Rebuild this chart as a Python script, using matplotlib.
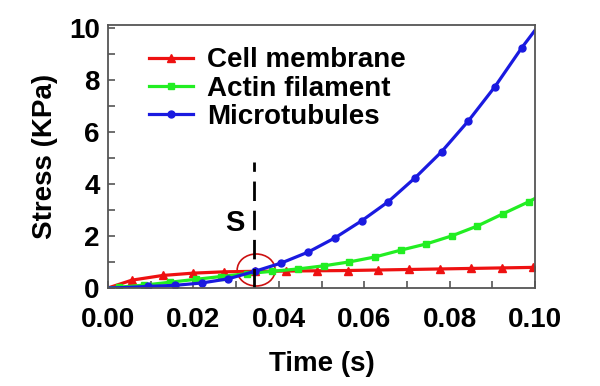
import numpy as np
import matplotlib
matplotlib.use("Agg")
import matplotlib.pyplot as plt
from matplotlib.patches import Ellipse
from matplotlib.ticker import MultipleLocator

plt.rcParams['font.family'] = ['Liberation Sans', 'DejaVu Sans']
plt.rcParams['font.weight'] = 'bold'

# values (time in s, stress in KPa)
t_membrane = [0.0, 0.0056, 0.0128, 0.0200, 0.0272, 0.0344, 0.0417, 0.0489,
              0.0561, 0.0633, 0.0706, 0.0778, 0.0850, 0.0922, 0.0995, 0.1]
s_membrane = [0.0, 0.30, 0.48, 0.57, 0.62, 0.64, 0.65, 0.66,
              0.67, 0.69, 0.71, 0.73, 0.75, 0.77, 0.79, 0.79]

t_actin = [0.0, 0.0025, 0.0085, 0.0145, 0.0205, 0.0265, 0.0325, 0.0385, 0.0445,
           0.0505, 0.0565, 0.0625, 0.0685, 0.0745, 0.0805, 0.0865, 0.0925, 0.0985, 0.1]
s_actin = [0.0, 0.03, 0.11, 0.22, 0.33, 0.44, 0.55, 0.64, 0.73,
           0.85, 1.00, 1.19, 1.45, 1.69, 2.00, 2.38, 2.85, 3.31, 3.44]

t_micro = [0.0, 0.0031, 0.0094, 0.0156, 0.0219, 0.0281, 0.0344, 0.0406, 0.0469,
           0.0531, 0.0594, 0.0656, 0.0719, 0.0781, 0.0844, 0.0906, 0.0969, 0.1]
s_micro = [0.0, 0.01, 0.06, 0.10, 0.19, 0.35, 0.64, 0.96, 1.38,
           1.92, 2.58, 3.31, 4.23, 5.23, 6.42, 7.73, 9.23, 9.90]

s_line_x = 0.0343
s_line_top = 4.85

fig = plt.figure(figsize=(6, 3.86), dpi=100)
ax = fig.add_axes([0.18, 0.254, 0.7117, 0.681])

ax.plot(t_membrane, s_membrane, color='#ee1111', lw=2.3, marker='^', ms=5.5,
        markevery=list(range(1, len(t_membrane) - 1)), label='Cell membrane')
ax.plot(t_actin, s_actin, color='#22ee22', lw=2.3, marker='s', ms=4.5,
        markevery=list(range(1, len(t_actin) - 1)), label='Actin filament')
ax.plot(t_micro, s_micro, color='#1a1ae0', lw=2.3, marker='o', ms=5,
        markevery=list(range(2, len(t_micro) - 1)), label='Microtubules')

ax.plot([s_line_x, s_line_x], [0, s_line_top], color='black', lw=2,
        dashes=(7, 3.5))
ax.add_patch(Ellipse((0.0347, 0.69), 0.0089, 1.23, fill=False,
                     edgecolor='#cc1111', lw=1.2))
ax.text(0.0297, 2.5, 'S', fontsize=21, fontweight='bold', ha='center', va='center')

ax.set_xlim(0, 0.1)
ax.set_ylim(0, 10.1)
ax.xaxis.set_major_locator(MultipleLocator(0.02))
ax.xaxis.set_minor_locator(MultipleLocator(0.01))
ax.yaxis.set_major_locator(MultipleLocator(2))
ax.yaxis.set_minor_locator(MultipleLocator(1))
ax.set_xticks([0, 0.02, 0.04, 0.06, 0.08, 0.10])
ax.set_xticklabels(['0.00', '0.02', '0.04', '0.06', '0.08', '0.10'])

ax.tick_params(which='both', direction='in', length=5, width=1.2, color='#555555',
               labelsize=20)
ax.tick_params(axis='x', pad=14)
ax.tick_params(axis='y', pad=6)
for sp in ax.spines.values():
    sp.set_color('#555555')
    sp.set_linewidth(1.3)

ax.set_xlabel('Time (s)', fontsize=20, fontweight='bold', labelpad=13)
ax.set_ylabel('Stress (KPa)', fontsize=20, fontweight='bold', labelpad=8)

ax.legend(loc='upper left', bbox_to_anchor=(0.095, 0.915), frameon=False,
          handlelength=1.6, handletextpad=0.5, labelspacing=0.08,
          borderpad=0, borderaxespad=0, prop={'weight': 'bold', 'size': 20})

fig.savefig('out.png', dpi=100)
